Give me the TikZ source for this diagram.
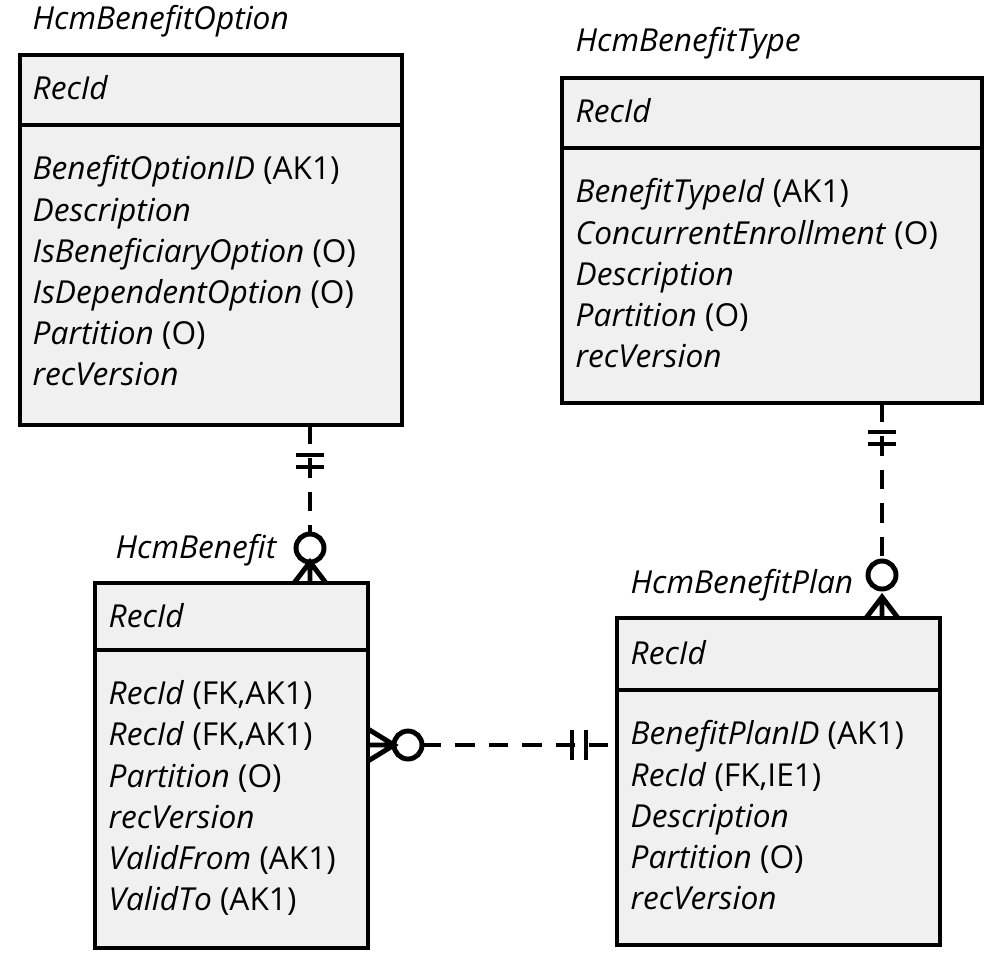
\documentclass[tikz,border=0pt]{standalone}
\usepackage{fontspec}
\setmainfont{Open Sans}
\usetikzlibrary{positioning,calc}

\begin{document}
\begin{tikzpicture}[
    x=0.01cm, y=-0.01cm,
    box/.style={draw, line width=1.4pt, fill=gray!12},
    title/.style={anchor=south west, inner sep=0pt, font=\fontsize{9pt}{11pt}\selectfont\itshape},
    attr/.style={anchor=north west, inner sep=0pt, align=left, font=\fontsize{9pt}{11.7pt}\selectfont},
    rel/.style={line width=1.4pt, dash pattern=on 5.5pt off 4pt},
    tick/.style={line width=1.4pt}
]
\useasboundingbox (0,0) rectangle (995,960);

% HcmBenefitOption
\draw[box] (20,55) rectangle (402,425);
\draw[line width=1.4pt] (20,125) -- (402,125);
\node[title] (optT) at (32,38) {HcmBenefitOption};
\node[attr] (optK) at (32,75) {\textit{RecId}};
\node[attr] (optA) at (32,155) {\textit{BenefitOptionID} (AK1)\\\textit{Description}\\\textit{IsBeneficiaryOption} (O)\\\textit{IsDependentOption} (O)\\\textit{Partition} (O)\\\textit{recVersion}};

% HcmBenefitType
\draw[box] (562,78) rectangle (982,403);
\draw[line width=1.4pt] (562,148) -- (982,148);
\node[title] (typT) at (575,60) {HcmBenefitType};
\node[attr] (typK) at (575,98) {\textit{RecId}};
\node[attr] (typA) at (575,178) {\textit{BenefitTypeId} (AK1)\\\textit{ConcurrentEnrollment} (O)\\\textit{Description}\\\textit{Partition} (O)\\\textit{recVersion}};

% HcmBenefit
\draw[box] (95,583) rectangle (368,948);
\draw[line width=1.4pt] (95,650) -- (368,650);
\node[title] (benT) at (115,567) {HcmBenefit};
\node[attr] (benK) at (108,603) {\textit{RecId}};
\node[attr] (benA) at (108,680) {\textit{RecId} (FK,AK1)\\\textit{RecId} (FK,AK1)\\\textit{Partition} (O)\\\textit{recVersion}\\\textit{ValidFrom} (AK1)\\\textit{ValidTo} (AK1)};

% HcmBenefitPlan
\draw[box] (617,618) rectangle (940,945);
\draw[line width=1.4pt] (617,690) -- (940,690);
\node[title] (plnT) at (630,602) {HcmBenefitPlan};
\node[attr] (plnK) at (630,640) {\textit{RecId}};
\node[attr] (plnA) at (630,720) {\textit{BenefitPlanID} (AK1)\\\textit{RecId} (FK,IE1)\\\textit{Description}\\\textit{Partition} (O)\\\textit{recVersion}};

% end points
\coordinate (optB) at (310,425);
\coordinate (benTop) at (310,534);
\coordinate (typB) at (882,403);
\coordinate (plnTop) at (882,561);
\coordinate (benR) at (422,745);
\coordinate (plnL) at (617,745);

% Relations
\draw[rel] (optB) -- (benTop);
\draw[rel] (typB) -- (plnTop);
\draw[rel] (benR) -- (plnL);

% Option -> Benefit
\draw[tick] (296,455) -- (324,455) (296,467) -- (324,467);
\draw[tick] (310,548) circle (14);
\draw[tick] (294,583) -- (310,562) -- (326,583) (310,562) -- (310,583);

% Type -> Plan
\draw[tick] (868,432) -- (896,432) (868,444) -- (896,444);
\draw[tick] (882,575) circle (14);
\draw[tick] (866,618) -- (882,597) -- (898,618) (882,597) -- (882,618);

% Benefit -> Plan
\draw[tick] (572,730) -- (572,760) (586,730) -- (586,760);
\draw[tick] (408,745) circle (14);
\draw[tick] (368,729) -- (394,745) -- (368,761) (368,745) -- (394,745);
\end{tikzpicture}
\end{document}
